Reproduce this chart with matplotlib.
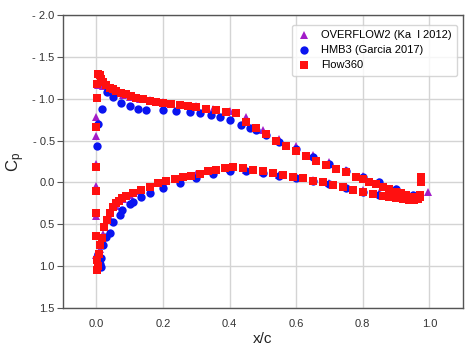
import numpy as np
import matplotlib
matplotlib.use('Agg')
import matplotlib.pyplot as plt

plt.rcParams['font.family'] = ['Liberation Sans', 'DejaVu Sans']

# OVERFLOW2 (upper then lower surface)
of_x_up = [0.0, 0.0, 0.0, 0.005, 0.01, 0.02, 0.04, 0.06, 0.08, 0.1, 0.13, 0.16, 0.2, 0.25, 0.3,
           0.35, 0.4, 0.45, 0.5, 0.55, 0.6, 0.65, 0.7, 0.75, 0.8, 0.85, 0.9, 0.95, 0.97, 0.997]
of_cp_up = [-0.22, -0.55, -0.78, -1.16, -1.18, -1.15, -1.1, -1.07, -1.04, -1.02, -1.0, -0.98, -0.96,
            -0.93, -0.91, -0.88, -0.85, -0.78, -0.62, -0.52, -0.43, -0.33, -0.24, -0.15, -0.08, 0.0,
            0.08, 0.15, 0.17, 0.12]
of_x_lo = [0.0, 0.0, 0.0, 0.003, 0.01, 0.02, 0.04, 0.06, 0.08, 0.1, 0.13, 0.16, 0.2, 0.25, 0.3,
           0.35, 0.4, 0.45, 0.5, 0.55, 0.6, 0.65, 0.7, 0.75, 0.8, 0.85, 0.9, 0.95]
of_cp_lo = [0.04, 0.4, 0.87, 0.98, 0.8, 0.62, 0.42, 0.28, 0.2, 0.15, 0.1, 0.05, 0.0, -0.05, -0.1,
            -0.14, -0.16, -0.15, -0.12, -0.09, -0.06, -0.03, 0.01, 0.05, 0.09, 0.13, 0.17, 0.19]

# HMB3 (Garcia 2017)
hm_x_up = [0.003, 0.005, 0.018, 0.033, 0.05, 0.073, 0.1, 0.124, 0.15, 0.2, 0.24, 0.28, 0.31, 0.345,
           0.37, 0.4, 0.435, 0.46, 0.48, 0.51, 0.55, 0.6, 0.65, 0.7, 0.75, 0.8, 0.85, 0.9, 0.95]
hm_cp_up = [-0.44, -0.70, -0.88, -1.08, -1.02, -0.95, -0.91, -0.88, -0.87, -0.86, -0.85, -0.84,
            -0.83, -0.80, -0.78, -0.75, -0.69, -0.65, -0.62, -0.56, -0.48, -0.40, -0.30, -0.22,
            -0.14, -0.07, 0.0, 0.08, 0.15]
hm_x_lo = [0.005, 0.01, 0.015, 0.015, 0.02, 0.03, 0.04, 0.05, 0.07, 0.078, 0.1, 0.11, 0.133, 0.16,
           0.2, 0.25, 0.3, 0.35, 0.4, 0.45, 0.5, 0.55, 0.6, 0.65, 0.7, 0.75, 0.8, 0.85, 0.9, 0.95]
hm_cp_lo = [0.85, 0.98, 1.01, 0.9, 0.75, 0.65, 0.6, 0.47, 0.39, 0.33, 0.26, 0.24, 0.18, 0.13, 0.07,
            0.01, -0.05, -0.10, -0.13, -0.14, -0.11, -0.08, -0.05, -0.02, 0.02, 0.07, 0.11, 0.15,
            0.18, 0.2]

# Flow360
fl_x_up = [0.0, 0.0, 0.001, 0.003, 0.006, 0.01, 0.015, 0.02, 0.03, 0.04, 0.05, 0.06, 0.075, 0.09,
           0.105, 0.12, 0.14, 0.16, 0.18, 0.2, 0.225, 0.25, 0.275, 0.3, 0.33, 0.36, 0.39, 0.42,
           0.45, 0.48, 0.51, 0.54, 0.57, 0.6, 0.63, 0.66, 0.69, 0.72, 0.75, 0.78, 0.8, 0.82, 0.84,
           0.86, 0.88, 0.9, 0.915, 0.93, 0.945, 0.955, 0.965, 0.972, 0.975, 0.975]
fl_cp_up = [-0.18, -0.66, -1.01, -1.18, -1.30, -1.28, -1.24, -1.2, -1.16, -1.13, -1.11, -1.09,
            -1.07, -1.05, -1.03, -1.01, -0.99, -0.97, -0.96, -0.95, -0.94, -0.93, -0.91, -0.90,
            -0.88, -0.86, -0.84, -0.83, -0.72, -0.65, -0.58, -0.50, -0.44, -0.38, -0.32, -0.26,
            -0.21, -0.16, -0.12, -0.07, -0.04, -0.01, 0.02, 0.05, 0.08, 0.11, 0.13, 0.15, 0.17,
            0.18, 0.18, 0.15, 0.0, -0.07]
fl_x_lo = [0.0, 0.0, 0.0, 0.001, 0.002, 0.004, 0.008, 0.012, 0.018, 0.024, 0.032, 0.04, 0.05, 0.058,
           0.068, 0.078, 0.09, 0.11, 0.133, 0.16, 0.185, 0.21, 0.235, 0.26, 0.285, 0.31, 0.335,
           0.36, 0.385, 0.41, 0.44, 0.47, 0.5, 0.53, 0.56, 0.59, 0.62, 0.65, 0.68, 0.71, 0.74,
           0.77, 0.8, 0.83, 0.86, 0.88, 0.9, 0.92, 0.94, 0.955, 0.965, 0.972]
fl_cp_lo = [0.10, 0.37, 0.64, 0.93, 1.05, 1.0, 0.85, 0.75, 0.67, 0.53, 0.45, 0.37, 0.3, 0.25, 0.22,
            0.19, 0.16, 0.13, 0.09, 0.05, 0.01, -0.02, -0.04, -0.06, -0.08, -0.10, -0.13, -0.15,
            -0.17, -0.18, -0.17, -0.15, -0.13, -0.11, -0.09, -0.07, -0.05, -0.02, 0.0, 0.03, 0.06,
            0.09, 0.11, 0.14, 0.16, 0.18, 0.19, 0.2, 0.21, 0.21, 0.2, 0.18]

labels = ['OVERFLOW2 (Ka  l 2012)', 'HMB3 (Garcia 2017)', 'Flow360']
yticks = [-2.0, -1.5, -1.0, -0.5, 0.0, 0.5, 1.0, 1.5]
ytick_labels = ['- 2.0', '- 1.5', '- 1.0', '- 0.5', '0.0', '0.5', '1.0', '1.5']
xticks = [0.0, 0.2, 0.4, 0.6, 0.8, 1.0]

fig = plt.figure(figsize=(4.74, 3.56), dpi=100)
ax = fig.add_axes([0.133, 0.135, 0.843, 0.823])

ax.plot(of_x_up + of_x_lo, of_cp_up + of_cp_lo, '^', color='#a21cc8', ms=6.3, mew=0, label=labels[0])
ax.plot(hm_x_up + hm_x_lo, hm_cp_up + hm_cp_lo, 'o', color='#0a14f0', ms=6.0, mew=0, label=labels[1])
ax.plot(fl_x_up + fl_x_lo, fl_cp_up + fl_cp_lo, 's', color='#ff1010', ms=6.3, mew=0, label=labels[2])

ax.set_xlim(-0.1, 1.1)
ax.set_ylim(1.5, -2.0)
ax.set_xticks(xticks)
ax.set_yticks(yticks)
ax.set_yticklabels(ytick_labels)
ax.grid(True, color='#d4d4d4', lw=1.0)
ax.set_axisbelow(True)
for s in ax.spines.values():
    s.set_color('#555555')
    s.set_linewidth(1.0)
ax.tick_params(axis='y', length=4, color='#555555', labelsize=8, labelcolor='#333333', pad=2)
ax.tick_params(axis='x', length=0, labelsize=8, labelcolor='#333333', pad=8)

ax.set_xlabel('x/c', fontsize=11, color='#222222', labelpad=2)
ax.set_ylabel(r'$\mathregular{C_p}$', fontsize=12, color='#222222')
ax.yaxis.set_label_coords(-0.09, 0.5)

leg = ax.legend(loc='upper right', fontsize=8, frameon=True, handletextpad=0.9,
                borderpad=0.5, labelspacing=0.45, handlelength=1.2, bbox_to_anchor=(1.0, 0.985))
leg.get_frame().set_edgecolor('#cccccc')

fig.savefig('out.png', dpi=100)
